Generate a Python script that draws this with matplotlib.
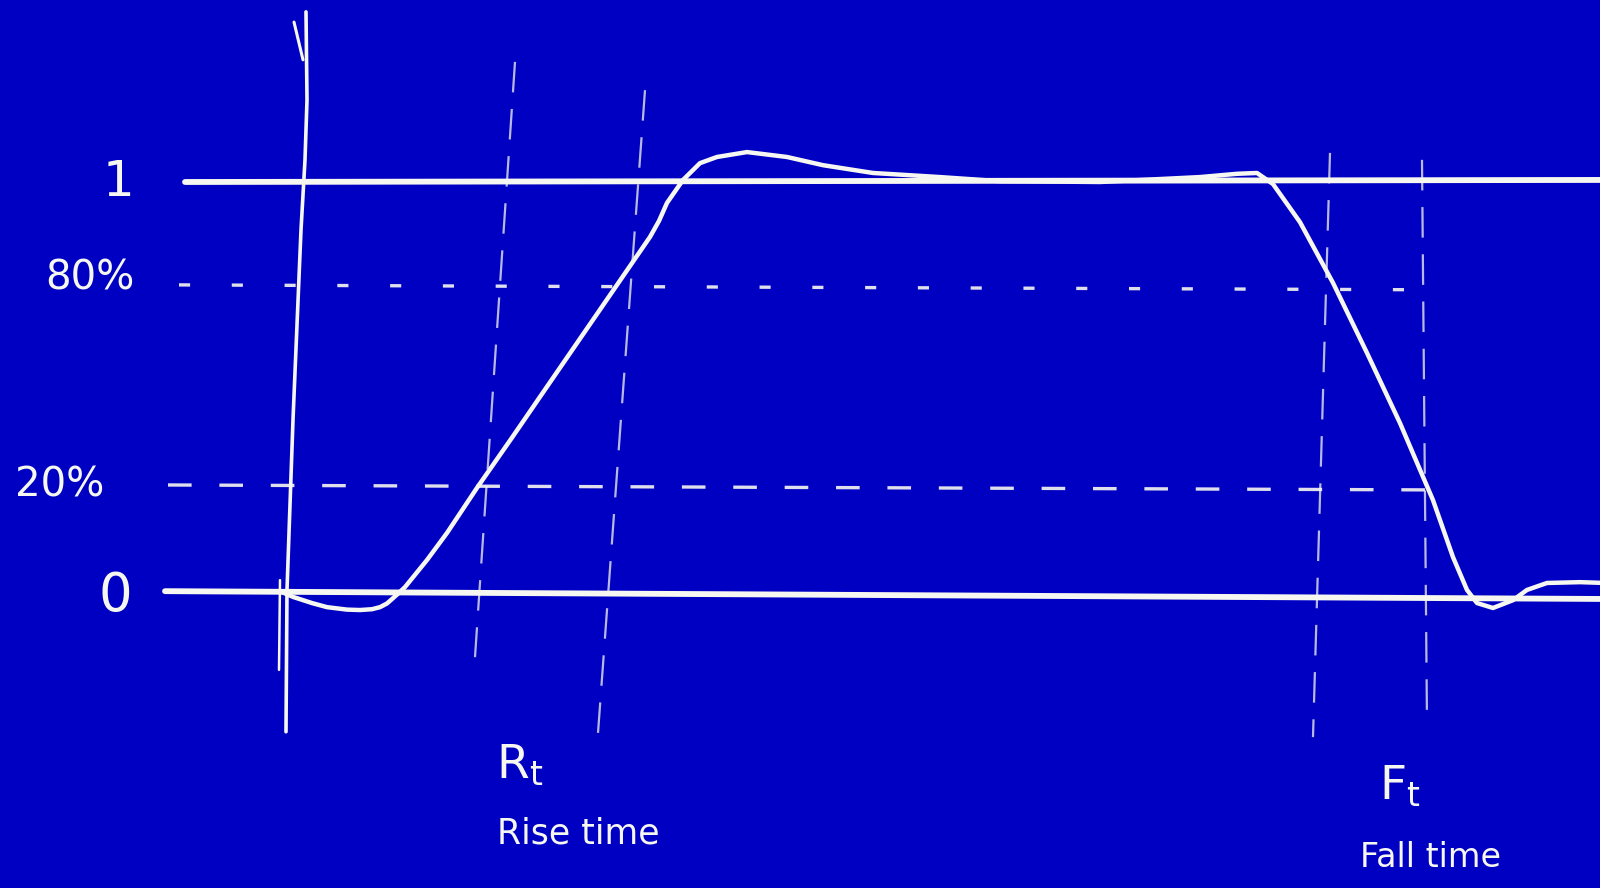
import matplotlib
matplotlib.use("Agg")
import matplotlib.pyplot as plt

plt.rcParams['lines.scale_dashes'] = False
plt.rcParams['font.family'] = ['DejaVu Sans']

# ---- data (time in arbitrary units, level as fraction of full swing) ----
signal_t = [-0.07, 0.06, 0.25, 0.40, 0.60, 0.73, 0.85, 0.93, 1.00, 1.06, 1.12, 1.18, 1.28,
            1.40, 1.60, 1.90, 2.06, 2.26, 2.53, 3.63, 3.72, 3.80, 3.96, 4.13, 4.30, 4.60,
            5.00, 5.36, 5.86, 6.53, 7.13, 8.13, 9.13, 9.50, 9.70, 9.86, 10.13, 10.46, 10.80,
            11.13, 11.46, 11.66, 11.80, 11.90, 12.06, 12.26, 12.40, 12.60, 12.93, 13.18]
signal_v = [0.002, -0.012, -0.027, -0.037, -0.043, -0.044, -0.042, -0.037, -0.028, -0.015,
            -0.002, 0.012, 0.042, 0.078, 0.144, 0.254, 0.310, 0.380, 0.476, 0.866, 0.905,
            0.949, 1.005, 1.046, 1.061, 1.073, 1.061, 1.041, 1.022, 1.012, 1.002, 1.000,
            1.012, 1.020, 1.022, 0.995, 0.902, 0.754, 0.583, 0.412, 0.224, 0.085, 0.005,
            -0.027, -0.039, -0.020, 0.005, 0.022, 0.024, 0.022]

# reference levels: (t_start, t_end, v_start, v_end)
level_one = (-1.02, 13.13, 1.000, 1.005)
level_zero = (-1.22, 13.13, 0.002, -0.017)
level_80 = (-1.08, 11.51, 0.749, 0.737)
level_20 = (-1.19, 11.41, 0.261, 0.249)

# level labels: (t, v, text)
level_labels_t = [-1.69, -1.97, -2.27, -1.72]
level_labels_v = [1.000, 0.765, 0.260, -0.010]
level_labels_txt = ["1", "80%", "20%", "0"]

# vertical marker lines: rise (start, end), fall (start, end)
vmark_t_top = [2.28, 3.58, 10.43, 11.35]
vmark_t_bot = [1.88, 3.11, 10.26, 11.40]
vmark_v_top = [1.293, 1.224, 1.071, 1.054]
vmark_v_bot = [-0.159, -0.344, -0.354, -0.320]

# hand-drawn vertical axis
axis_t = [0.19, 0.20, 0.18, 0.14, 0.06, 0.00, -0.01]
axis_v = [1.415, 1.200, 1.054, 0.883, 0.420, 0.005, -0.341]
axis_hook_t = [0.07, 0.16]
axis_hook_v = [1.390, 1.298]
axis_extra_t = [-0.07, -0.08]
axis_extra_v = [0.029, -0.190]

# annotations
ann_t = [2.33, 2.91, 11.13, 11.43]
ann_v = [-0.424, -0.588, -0.474, -0.647]
ann_txt = [r"R$_\mathregular{t}$", "Rise time", r"F$_\mathregular{t}$", "Fall time"]
ann_size = [34, 25, 34, 24]

BG = '#0000c2'
CHALK = '#f7f7f2'

fig = plt.figure(figsize=(16, 8.88), dpi=100, facecolor=BG)
ax = fig.add_axes([0, 0, 1, 1])
ax.set_facecolor(BG)
ax.set_xlim(-2.87, 13.13)
ax.set_ylim(-0.7220, 1.4439)
ax.axis('off')

# levels 0 and 1
for lv in (level_one, level_zero):
    ax.plot(lv[:2], lv[2:], color=CHALK, lw=4.2, solid_capstyle='round', zorder=3)

# dashed 80% / 20%
ax.plot(level_80[:2], level_80[2:], color=CHALK, lw=2.4, alpha=0.9, zorder=2,
        linestyle=(0, (8, 30)))
ax.plot(level_20[:2], level_20[2:], color=CHALK, lw=2.4, alpha=0.9, zorder=2,
        linestyle=(0, (17, 20)))

# vertical markers
for i in range(len(vmark_t_top)):
    ax.plot([vmark_t_top[i], vmark_t_bot[i]], [vmark_v_top[i], vmark_v_bot[i]],
            color=CHALK, lw=1.6, alpha=0.75, zorder=2, linestyle=(0, (22, 12)))

# axis
ax.plot(axis_t, axis_v, color=CHALK, lw=2.6, solid_capstyle='round',
        solid_joinstyle='round', zorder=4)
ax.plot(axis_hook_t, axis_hook_v, color=CHALK, lw=2.2, solid_capstyle='round', zorder=4)
ax.plot(axis_extra_t, axis_extra_v, color=CHALK, lw=1.8, solid_capstyle='round', zorder=4)

# signal
ax.plot(signal_t, signal_v, color=CHALK, lw=3.2, solid_joinstyle='round',
        solid_capstyle='round', zorder=5)

# labels
sizes = [36, 29, 29, 38]
for t, v, s, fs in zip(level_labels_t, level_labels_v, level_labels_txt, sizes):
    ax.text(t, v, s, color=CHALK, fontsize=fs, ha='center', va='center')

for t, v, s, fs in zip(ann_t, ann_v, ann_txt, ann_size):
    ax.text(t, v, s, color=CHALK, fontsize=fs, ha='center', va='center')

fig.savefig('out.png', dpi=100, facecolor=BG)
